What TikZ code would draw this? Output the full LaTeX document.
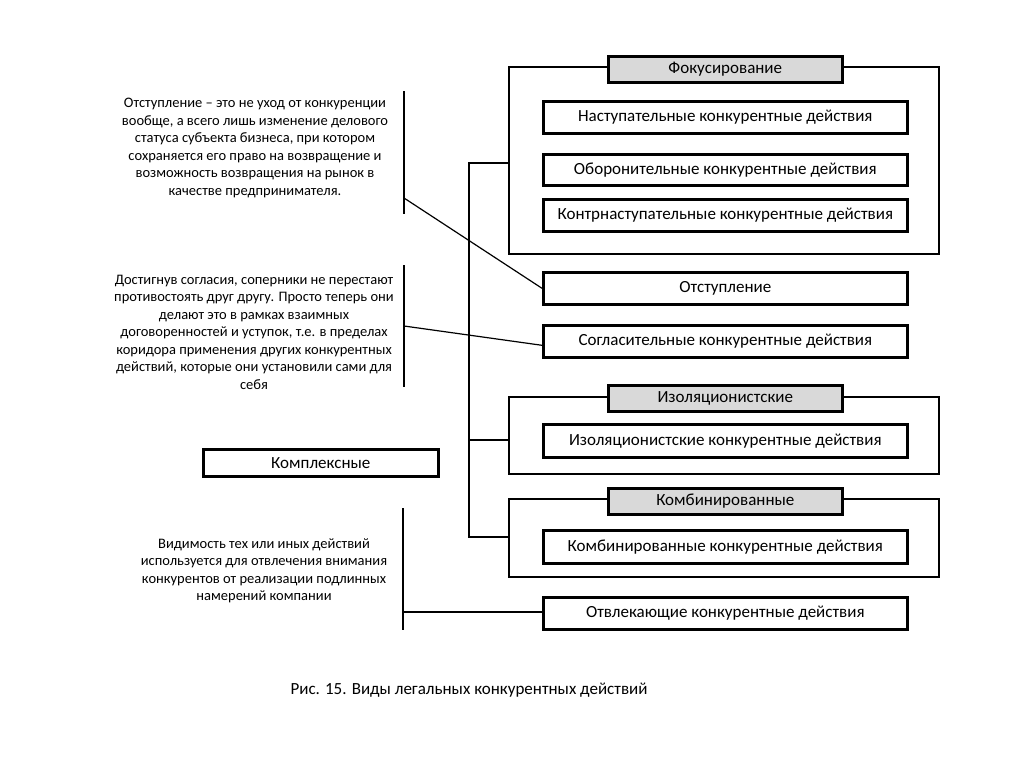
\documentclass[tikz,border=0pt]{standalone}
\usepackage{fontspec}
\setmainfont{Carlito}
\begin{document}
\begin{tikzpicture}[x=1pt,y=-1pt,
  box/.style={draw,line width=2.6pt,inner sep=0pt,anchor=north west,font=\fontsize{17}{18}\selectfont},
  hdr/.style={box,fill=black!15},
  outer/.style={draw,line width=2.6pt},
  bar/.style={line width=2.6pt},
  thin/.style={line width=1.2pt},
  note/.style={align=center,font=\fontsize{14.5}{17.5}\selectfont,inner sep=0pt}]
\useasboundingbox (0,0) rectangle (1024,768);
% Focus group
\draw[outer] (509,67) rectangle (939,254);
\node[hdr,minimum width=234pt,minimum height=26pt] (hfoc) at (607,55) {Фокусирование};
\node[box,minimum width=364pt,minimum height=32pt] (b1) at (542,100) {Наступательные конкурентные действия};
\node[box,minimum width=364pt,minimum height=31pt] (b2) at (542,153) {Оборонительные конкурентные действия};
\node[box,minimum width=364pt,minimum height=32pt] (b3) at (542,198) {Контрнаступательные конкурентные действия};
\node[box,minimum width=364pt,minimum height=32pt] (b4) at (542,271) {Отступление};
\node[box,minimum width=364pt,minimum height=32pt] (b5) at (542,324) {Согласительные конкурентные действия};
% Isolation group
\draw[outer] (509,397) rectangle (939,474);
\node[hdr,minimum width=234pt,minimum height=26pt] (hiso) at (607,384) {Изоляционистские};
\node[box,minimum width=364pt,minimum height=33pt] (b6) at (542,423) {Изоляционистские конкурентные действия};
% Combined group
\draw[outer] (509,499) rectangle (939,577);
\node[hdr,minimum width=234pt,minimum height=26pt] (hcom) at (607,487) {Комбинированные};
\node[box,minimum width=364pt,minimum height=33pt] (b7) at (542,529) {Комбинированные конкурентные действия};
\node[box,minimum width=364pt,minimum height=32pt] (b8) at (542,596) {Отвлекающие конкурентные действия};
% Complex
\node[box,minimum width=235pt,minimum height=27pt] (kom) at (202,448) {Комплексные};
% trunk
\coordinate (t1) at (469,163);
\coordinate (t2) at (469,440);
\coordinate (t3) at (469,537);
\draw[bar] (509,163) -- (t1) -- (t3) -- (509,537);
\draw[bar] (t2) -- (509,440);
% notes
\node[note] (n1) at (255,148) {Отступление – это не уход от конкуренции\\вообще, а всего лишь изменение делового\\статуса субъекта бизнеса, при котором\\сохраняется его право на возвращение и\\возможность возвращения на рынок в\\качестве предпринимателя.};
\node[note] (n2) at (254,332) {Достигнув согласия, соперники не перестают\\противостоять друг другу. Просто теперь они\\делают это в рамках взаимных\\договоренностей и уступок, т.е. в пределах\\коридора применения других конкурентных\\действий, которые они установили сами для\\себя};
\node[note] (n3) at (264,571) {Видимость тех или иных действий\\используется для отвлечения внимания\\конкурентов от реализации подлинных\\намерений компании};
% bars
\coordinate (a1) at (404,91); \coordinate (a2) at (404,214);
\coordinate (c1) at (404,265); \coordinate (c2) at (404,387);
\coordinate (d1) at (403,508); \coordinate (d2) at (403,630);
\draw[bar] (a1) -- (a2);
\draw[bar] (c1) -- (c2);
\draw[bar] (d1) -- (d2);
\coordinate (p1) at (404,198);
\coordinate (p2) at (404,326);
\coordinate (p3) at (403,612);
\draw[thin] (p1) -- (b4.west);
\draw[thin] (p2) -- ([yshift=-4pt]b5.west);
\draw[thin] (p3) -- (p3 -| b8.west);
% caption
\node[font=\fontsize{17}{18}\selectfont] (cap) at (469,690) {Рис. 15. Виды легальных конкурентных действий};
\end{tikzpicture}
\end{document}
